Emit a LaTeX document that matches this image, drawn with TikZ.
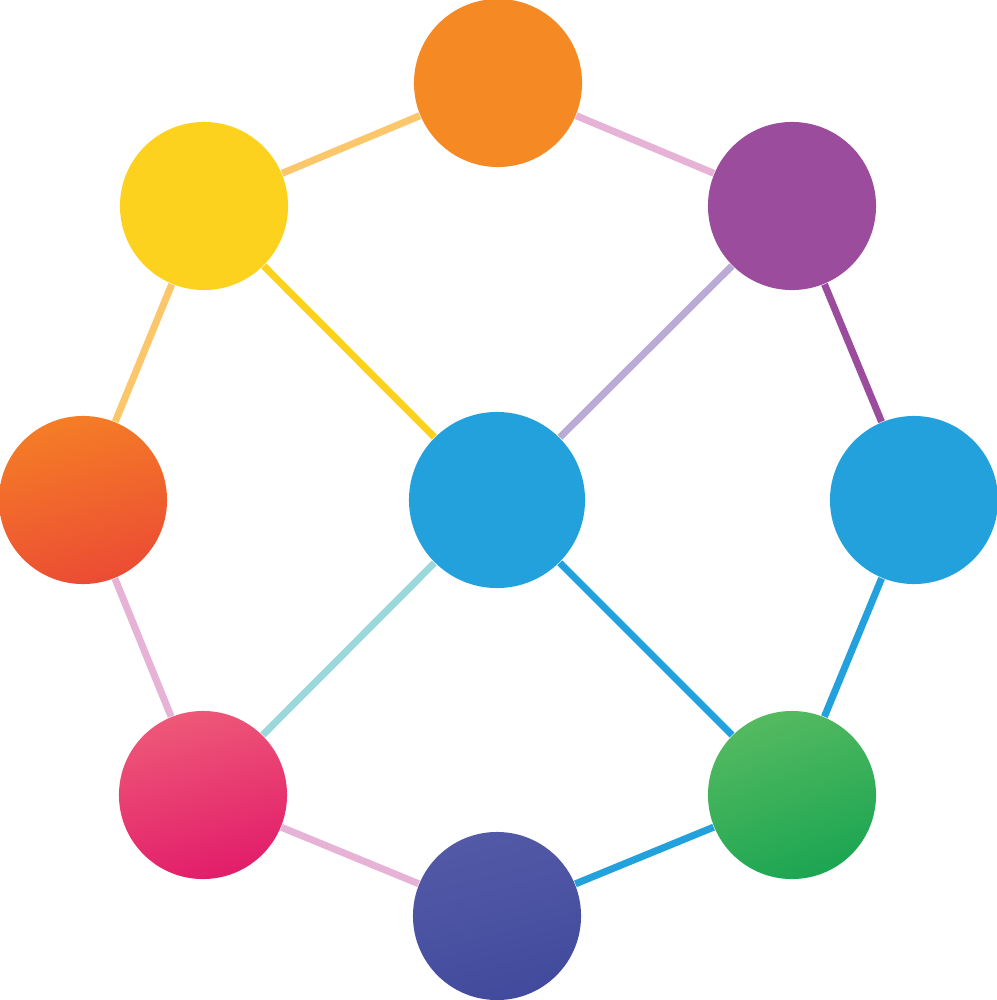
\documentclass[tikz,border=0pt]{standalone}
\usepackage{tikz}
\usetikzlibrary{positioning}

\definecolor{ballorange}{HTML}{F58A24}
\definecolor{ballyellow}{HTML}{FDD21F}
\definecolor{ballpurple}{HTML}{9C4C9D}
\definecolor{ballblue}{HTML}{23A1DC}
\definecolor{linkorange}{HTML}{FBC76A}
\definecolor{linkpink}{HTML}{E6B3D6}
\definecolor{linklilac}{HTML}{BBA9D6}
\definecolor{linkteal}{HTML}{9AD8DB}

\tikzset{
  ball/.style={circle, inner sep=0pt, minimum size=1.68cm},
  bigball/.style={ball, minimum size=1.76cm},
  link/.style={line width=2pt}
}

\begin{document}
\begin{tikzpicture}[x=0.01cm, y=-0.01cm]
\useasboundingbox (0,0) rectangle (997,1000);
% we place the balls of the network
\node[ball, fill=ballorange] (top) at (498,83) {};
\node[ball, fill=ballyellow] (yellow) at (204,206) {};
\node[ball, fill=ballpurple] (purple) at (792,206) {};
\node[ball, top color={rgb,255:red,245;green,125;blue,38}, bottom color={rgb,255:red,235;green,76;blue,52}, shading angle=15] (left) at (83,500) {};
\node[bigball, fill=ballblue] (hub) at (497,500) {};
\node[ball, fill=ballblue] (right) at (914,500) {};
\node[ball, top color={rgb,255:red,238;green,88;blue,120}, bottom color={rgb,255:red,226;green,29;blue,106}, shading angle=15] (pink) at (203,795) {};
\node[ball, top color={rgb,255:red,84;green,186;blue,96}, bottom color={rgb,255:red,28;green,165;blue,82}, shading angle=20] (green) at (792,795) {};
\node[ball, top color={rgb,255:red,82;green,90;blue,167}, bottom color={rgb,255:red,66;green,74;blue,157}, shading angle=15] (bottom) at (497,916) {};
% we draw the links between the balls
\foreach \from/\to/\col in {top/yellow/linkorange, top/purple/linkpink,
  yellow/left/linkorange, yellow/hub/ballyellow, purple/hub/linklilac,
  purple/right/ballpurple, left/pink/linkpink, hub/pink/linkteal,
  hub/green/ballblue, right/green/ballblue, pink/bottom/linkpink,
  bottom/green/ballblue}
{
  \draw[link, \col] (\from) -- (\to);
}
%
\end{tikzpicture}
\end{document}
